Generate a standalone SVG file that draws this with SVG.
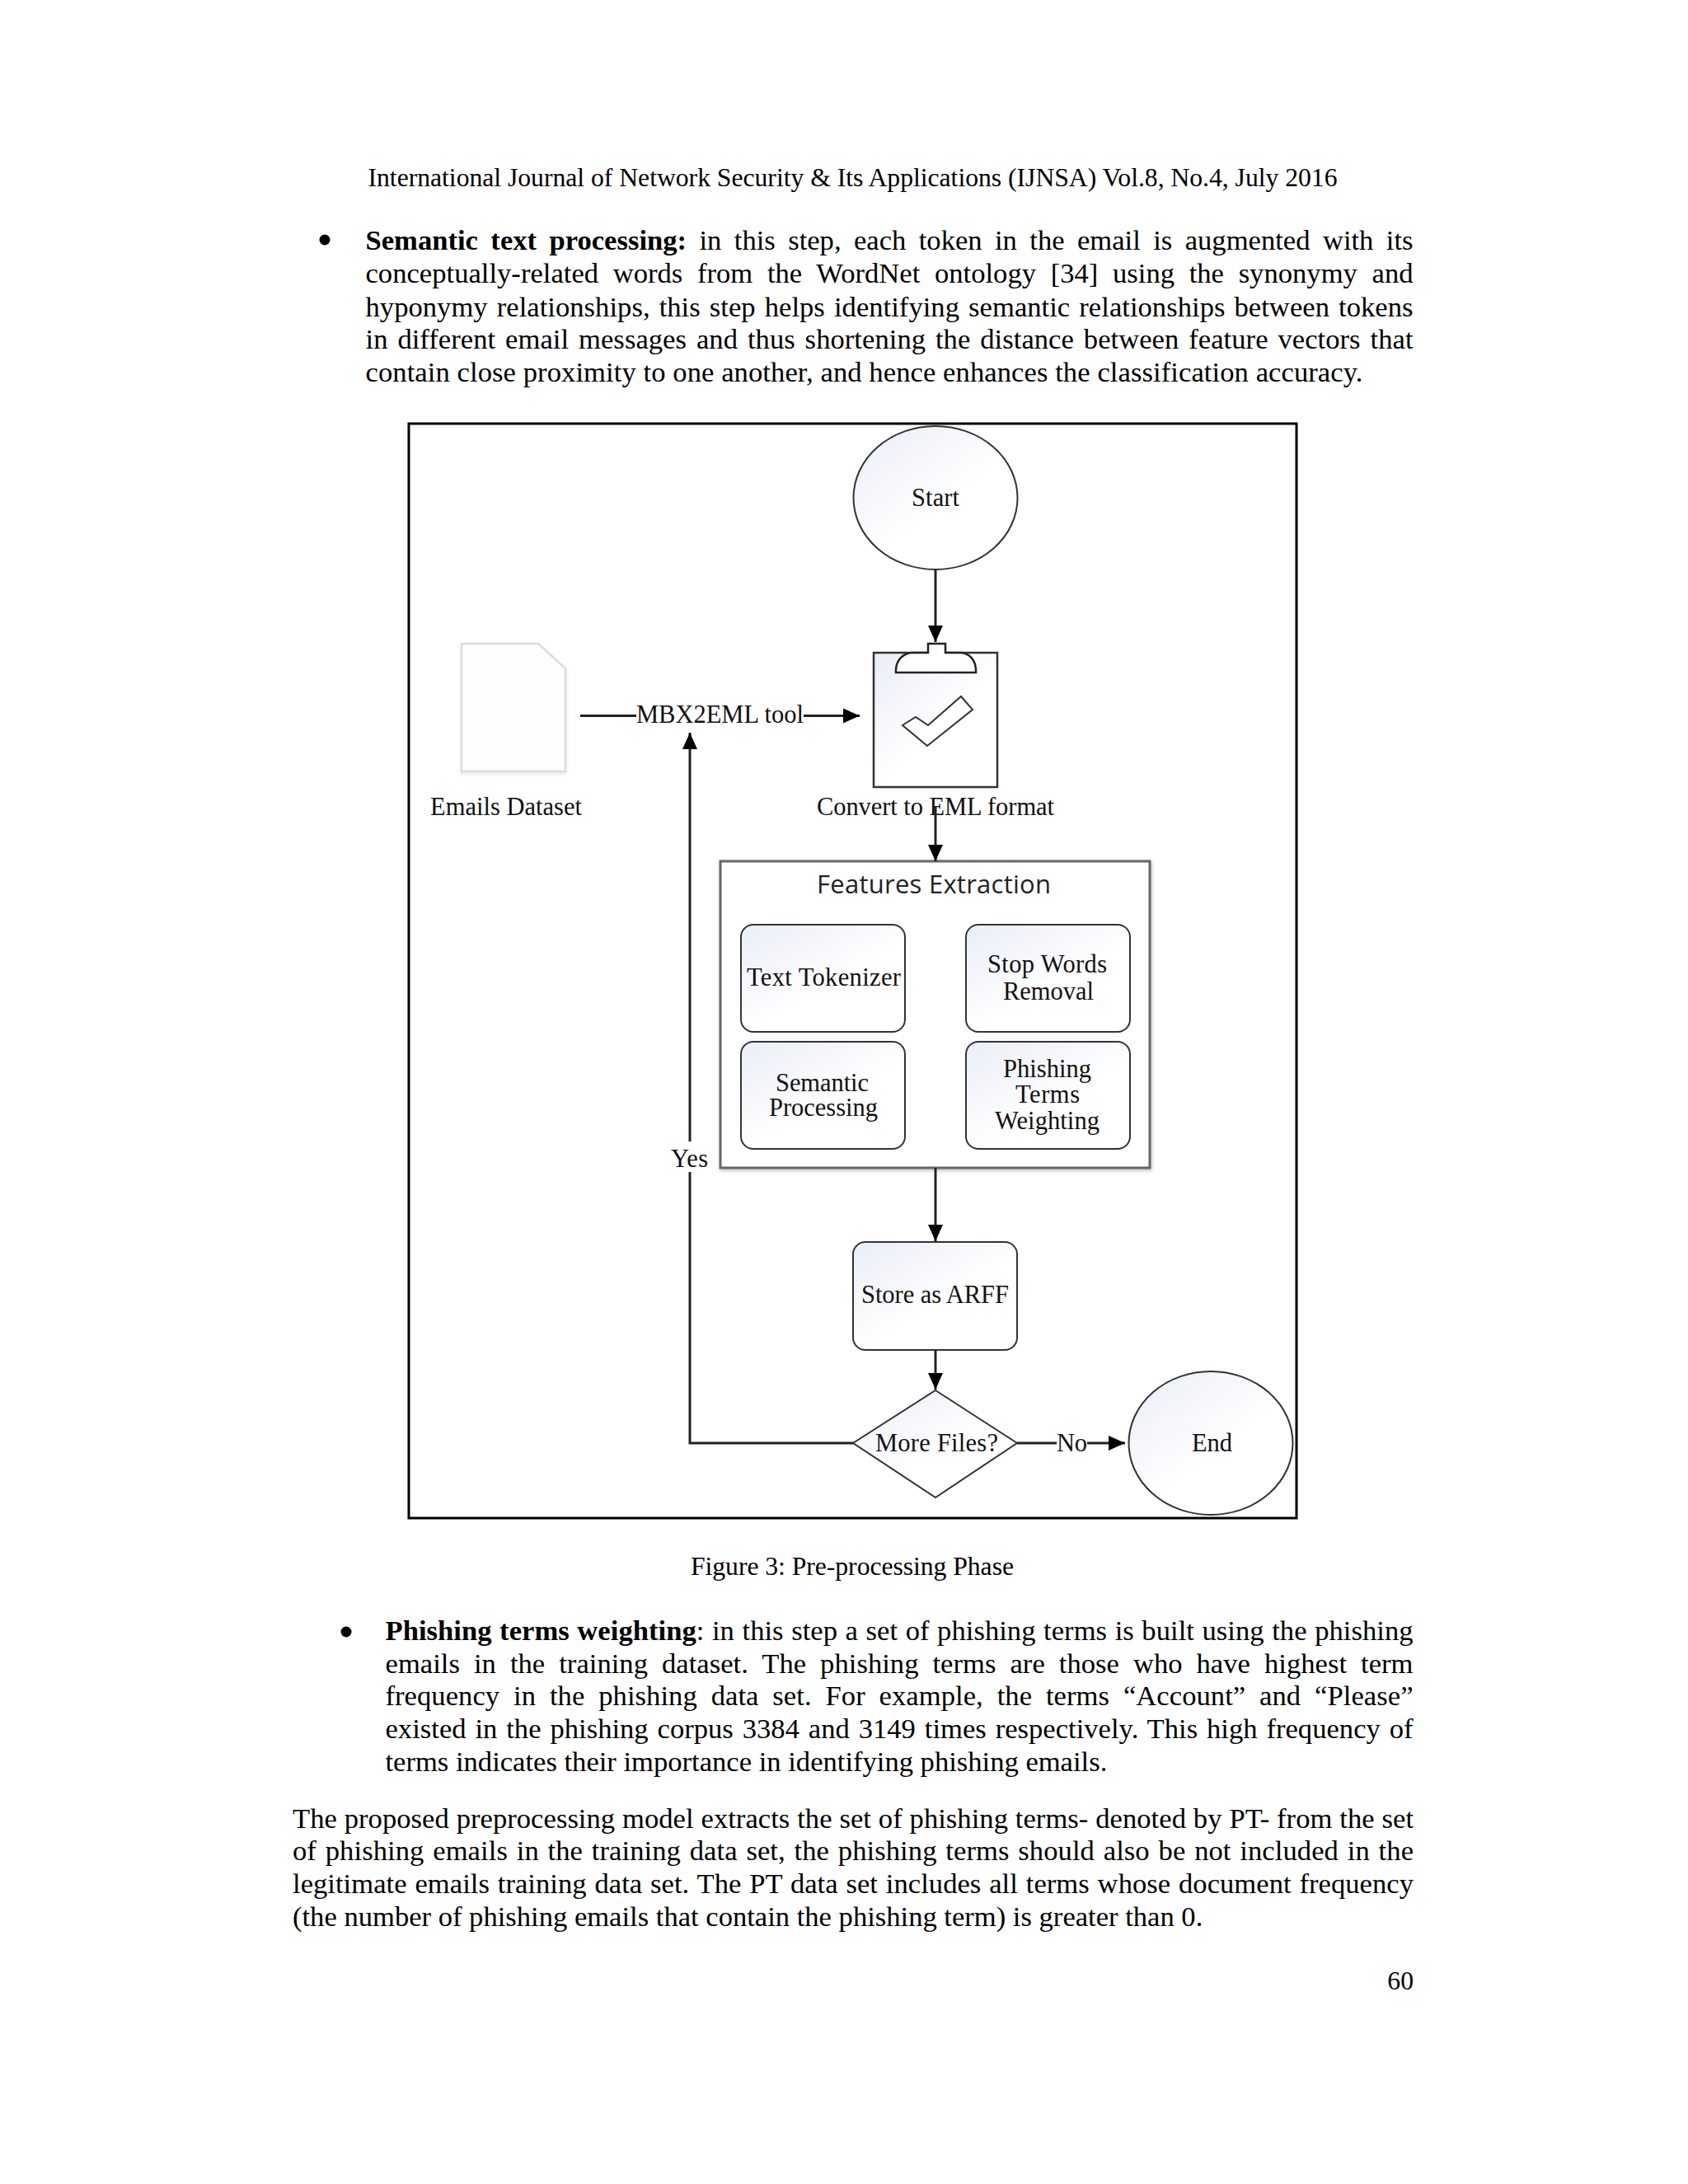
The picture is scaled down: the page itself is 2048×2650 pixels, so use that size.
<svg xmlns="http://www.w3.org/2000/svg" width="2048" height="2650" viewBox="0 0 2048 2650">
<style>
text{font-family:"Liberation Serif","Times New Roman",serif;fill:#000}
.b{font-size:34.6px}
.h{font-size:31.7px}
.d{font-size:30.5px;fill:#111}
.s{fill:url(#g);stroke:#333;stroke-width:2}
.c{fill:none;stroke:#222;stroke-width:3}
</style>
<defs>
<linearGradient id="g" x1="0" y1="0" x2="0.7" y2="0.8"><stop offset="0" stop-color="#e9eef7"/><stop offset="0.75" stop-color="#fff"/></linearGradient>
<filter id="sh" x="-5%" y="-5%" width="110%" height="110%"><feDropShadow dx="1" dy="2" stdDeviation="2" flood-opacity="0.25"/></filter>
<filter id="sl" x="-5%" y="-5%" width="110%" height="110%"><feDropShadow dx="0" dy="2" stdDeviation="2" flood-opacity="0.1"/></filter>
<marker id="a" markerUnits="userSpaceOnUse" markerWidth="22" markerHeight="20" refX="20" refY="9" orient="auto"><path d="M0 0L20 9L0 18z" fill="#000"/></marker>
</defs>
<rect width="2048" height="2650" fill="#fff"/>
<g id="page-text">
<text class="h" x="446.500" y="226" textLength="1176">International Journal of Network Security &amp; Its Applications (IJNSA) Vol.8, No.4, July 2016</text>
<circle cx="394" cy="291" r="6.5"/>
<text class="b" x="443.500" y="303" word-spacing="6.7" textLength="1271"><tspan font-weight="bold">Semantic text processing:</tspan> in this step, each token in the email is augmented with its</text>
<text class="b" x="443.500" y="343" word-spacing="9" textLength="1271">conceptually-related words from the WordNet ontology [34] using the synonymy and</text>
<text class="b" x="443.500" y="384" word-spacing="2.4" textLength="1271">hyponymy relationships, this step helps identifying semantic relationships between tokens</text>
<text class="b" x="443.500" y="423" word-spacing="3.2" textLength="1271">in different email messages and thus shortening the distance between feature vectors that</text>
<text class="b" x="443.500" y="463" textLength="1210">contain close proximity to one another, and hence enhances the classification accuracy.</text>
<text class="h" x="838" y="1911" textLength="392">Figure 3: Pre-processing Phase</text>
<circle cx="420" cy="1980" r="6.5"/>
<text class="b" x="467.500" y="1990" word-spacing="0.9" textLength="1247"><tspan font-weight="bold">Phishing terms weighting</tspan>: in this step a set of phishing terms is built using the phishing</text>
<text class="b" x="467.500" y="2030" word-spacing="8.3" textLength="1247">emails in the training dataset. The phishing terms are those who have highest term</text>
<text class="b" x="467.500" y="2069" word-spacing="8.2" textLength="1247">frequency in the phishing data set. For example, the terms “Account” and “Please”</text>
<text class="b" x="467.500" y="2109" word-spacing="2.2" textLength="1247">existed in the phishing corpus 3384 and 3149 times respectively. This high frequency of</text>
<text class="b" x="467.500" y="2149">terms indicates their importance in identifying phishing emails.</text>
<text class="b" x="355" y="2218" word-spacing="0.2" textLength="1360">The proposed preprocessing model extracts the set of phishing terms- denoted by PT- from the set</text>
<text class="b" x="355" y="2257" word-spacing="2.1" textLength="1360">of phishing emails in the training data set, the phishing terms should also be not included in the</text>
<text class="b" x="355" y="2297" word-spacing="1.2" textLength="1360">legitimate emails training data set. The PT data set includes all terms whose document frequency</text>
<text class="b" x="355" y="2337">(the number of phishing emails that contain the phishing term) is greater than 0.</text>
<text class="h" x="1715" y="2414" text-anchor="end">60</text>
</g>
<rect id="frame" x="496" y="514" width="1077" height="1328" fill="none" stroke="#000" stroke-width="3"/>
<g id="emails-dataset"><path d="M560 781H653L686 811V936H560z" fill="#fdfdfe" stroke="#dcdcdc" stroke-width="2.500" filter="url(#sl)"/>
<text class="d" x="522" y="988.500" textLength="184">Emails Dataset</text></g>
<g id="start"><ellipse class="s" cx="1135" cy="604" rx="99.500" ry="87"/><text class="d" x="1106" y="613.500" textLength="58">Start</text></g>
<g id="convert"><rect x="1060" y="792" width="150" height="163" fill="url(#g)" stroke="#333" stroke-width="2.500"/>
<path d="M1087 816V812C1088 800 1096 793 1106 792H1126V781H1147V792H1166C1176 793 1183 800 1184 812V816z" fill="#fff" stroke="#222" stroke-width="2.500"/>
<path d="M1095 880L1111 870L1126 880L1166 845L1180 861L1125 905z" fill="#fff" stroke="#333" stroke-width="2"/>
<text class="d" x="991" y="988.500" textLength="288">Convert to EML format</text></g>
<g id="features-extraction"><rect x="874" y="1045" width="521" height="372" fill="#fff" stroke="#666" stroke-width="3" filter="url(#sh)"/>
<text x="991" y="1083.500" textLength="284" style="font-family:'Open Sans',sans-serif;font-size:31px;fill:#222">Features Extraction</text></g>
<g id="text-tokenizer"><rect class="s" x="899" y="1122" width="199" height="130" rx="15"/><text class="d" x="906" y="1195.500" textLength="187">Text Tokenizer</text></g>
<g id="stop-words"><rect class="s" x="1172" y="1122" width="199" height="130" rx="15"/><text class="d" x="1198" y="1179.500" textLength="145">Stop Words</text><text class="d" x="1217" y="1212.500" textLength="110">Removal</text></g>
<g id="semantic"><rect class="s" x="899" y="1264" width="199" height="130" rx="15"/><text class="d" x="941" y="1323.500" textLength="113">Semantic</text><text class="d" x="933" y="1353.500" textLength="132">Processing</text></g>
<g id="phishing"><rect class="s" x="1172" y="1264" width="199" height="130" rx="15"/><text class="d" x="1217" y="1306.500" textLength="107">Phishing</text><text class="d" x="1232" y="1337.500" textLength="78">Terms</text><text class="d" x="1207" y="1369.500" textLength="127">Weighting</text></g>
<g id="store"><rect class="s" x="1035" y="1507" width="199" height="131" rx="15"/><text class="d" x="1045" y="1580.500" textLength="179">Store as ARFF</text></g>
<g id="more-files"><path class="s" d="M1135 1687L1234 1751L1135 1817L1035 1751z"/><text class="d" x="1062" y="1760.500" textLength="149">More Files?</text></g>
<g id="end"><ellipse class="s" cx="1469" cy="1751" rx="99.500" ry="87"/><text class="d" x="1446" y="1760.500" textLength="49">End</text></g>
<g id="connectors">
<path class="c" marker-end="url(#a)" d="M1135 691V779"/>
<path class="c" d="M704 868.500H772"/>
<path class="c" marker-end="url(#a)" d="M975 868.500H1043"/>
<path class="c" marker-end="url(#a)" d="M1135 978V1045"/>
<path class="c" marker-end="url(#a)" d="M1135 1417V1506"/>
<path class="c" marker-end="url(#a)" d="M1135 1638V1686"/>
<path class="c" marker-end="url(#a)" d="M1035 1751H837V889"/>
<path class="c" d="M1234 1751H1282"/>
<path class="c" marker-end="url(#a)" d="M1319 1751H1365"/>
<rect x="811" y="1385" width="52" height="37" fill="#fff"/>
<text class="d" x="814" y="1415.500" textLength="45">Yes</text>
<text class="d" x="772" y="876.500" textLength="203">MBX2EML tool</text>
<text class="d" x="1282" y="1760.500" textLength="37">No</text>
</g>
</svg>
